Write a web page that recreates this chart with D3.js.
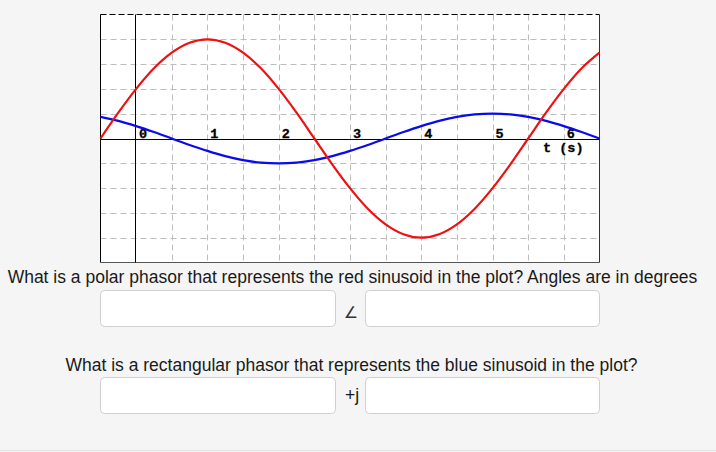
<!DOCTYPE html>
<html>
<head>
<meta charset="utf-8">
<script src="https://cdn.jsdelivr.net/npm/d3@7"></script>
<style>
  html, body { margin: 0; padding: 0; background: #f5f5f5; }
  svg { display: block; }
</style>
</head>
<body>
<svg id="chart" width="716" height="452"></svg>
<script>
// ---- data ----
const times = [-0.5,-0.25,0,0.25,0.5,0.75,1,1.25,1.5,1.75,2,2.25,2.5,2.75,3,3.25,3.5,3.75,4,4.25,4.5,4.75,5,5.25,5.5,5.75,6,6.25,6.5];
const redValues = [0,1.04,2,2.83,3.46,3.86,4,3.86,3.46,2.83,2,1.04,0,-1.04,-2,-2.83,-3.46,-3.86,-4,-3.86,-3.46,-2.83,-2,-1.04,0,1.04,2,2.83,3.46];
const blueValues = [0.87,0.71,0.5,0.26,0,-0.26,-0.5,-0.71,-0.87,-0.97,-1,-0.97,-0.87,-0.71,-0.5,-0.26,0,0.26,0.5,0.71,0.87,0.97,1,0.97,0.87,0.71,0.5,0.26,0];
const xTickLabels = [0,1,2,3,4,5,6];
const xGridValues = [0.5,1,1.5,2,2.5,3,3.5,4,4.5,5,5.5,6];
const yGridValues = [-4,-3,-2,-1,1,2,3,4];
const xAxisTitle = "t (s)";
const question1 = "What is a polar phasor that represents the red sinusoid in the plot? Angles are in degrees";
const question2 = "What is a rectangular phasor that represents the blue sinusoid in the plot?";
const joiner1 = "\u2220";
const joiner2 = "+j";

const svg = d3.select("#chart");
const x = d3.scaleLinear().domain([-0.5, 6.5]).range([100.5, 599.5]);
const y = d3.scaleLinear().domain([-5, 5]).range([262.5, 14.5]);

// plot background
svg.append("rect").attr("x", x(-0.5)).attr("y", y(5))
  .attr("width", x(6.5) - x(-0.5)).attr("height", y(-5) - y(5))
  .attr("fill", "#fff");

// grid
const grid = svg.append("g").attr("stroke", "#bdbdbd").attr("stroke-width", 1).attr("stroke-dasharray", "6,4");
grid.selectAll("line.v").data(xGridValues).join("line").attr("class", "v")
  .attr("x1", d => Math.round(x(d)) + 0.5).attr("x2", d => Math.round(x(d)) + 0.5)
  .attr("y1", y(5)).attr("y2", y(-5));
grid.selectAll("line.h").data(yGridValues).join("line").attr("class", "h")
  .attr("y1", d => Math.round(y(d)) + 0.5).attr("y2", d => Math.round(y(d)) + 0.5)
  .attr("x1", x(-0.5)).attr("x2", x(6.5));

// frame
svg.append("line").attr("x1", x(-0.5)).attr("x2", x(6.5)).attr("y1", y(5)).attr("y2", y(5))
  .attr("stroke", "#000").attr("stroke-dasharray", "6,3");
svg.append("line").attr("x1", x(-0.5)).attr("x2", x(-0.5)).attr("y1", y(5)).attr("y2", y(-5)).attr("stroke", "#000");
svg.append("line").attr("x1", x(6.5)).attr("x2", x(6.5)).attr("y1", y(5)).attr("y2", y(-5)).attr("stroke", "#333");
svg.append("line").attr("x1", x(-0.5)).attr("x2", x(6.5)).attr("y1", y(-5)).attr("y2", y(-5)).attr("stroke", "#555");

// axes lines
svg.append("line").attr("x1", x(-0.5)).attr("x2", x(6.5)).attr("y1", Math.round(y(0)) + 0.5).attr("y2", Math.round(y(0)) + 0.5).attr("stroke", "#000");
svg.append("line").attr("x1", Math.round(x(0)) - 0.5).attr("x2", Math.round(x(0)) - 0.5).attr("y1", y(5)).attr("y2", y(-5)).attr("stroke", "#000");

// tick labels via d3 axis
const monoFont = "'Liberation Mono', 'DejaVu Sans Mono', monospace";
const axis = d3.axisTop(x).tickValues(xTickLabels).tickSize(0).tickPadding(1).tickFormat(d3.format("d"));
const axG = svg.append("g").attr("transform", `translate(0,${Math.round(y(0))})`).call(axis);
axG.select(".domain").remove();
axG.selectAll("text")
  .attr("dx", 6.5)
  .attr("font-family", monoFont)
  .attr("font-weight", "bold").attr("font-size", 13.5).attr("fill", "#000")
  .attr("stroke", "#000").attr("stroke-width", 0.3);

svg.append("text").attr("x", 543).attr("y", y(0) + 13)
  .attr("font-family", monoFont)
  .attr("font-weight", "bold").attr("font-size", 13.5).attr("fill", "#000")
  .attr("stroke", "#000").attr("stroke-width", 0.3)
  .text(xAxisTitle);

// curves
const line = d3.line().x((d, i) => x(times[i])).y(d => y(d)).curve(d3.curveMonotoneX);
svg.append("path").attr("d", line(blueValues)).attr("fill", "none").attr("stroke", "#0a0aee").attr("stroke-width", 2.2);
svg.append("path").attr("d", line(redValues)).attr("fill", "none").attr("stroke", "#ee1111").attr("stroke-width", 2.2);

// questions
const font = "'Liberation Sans', Arial, sans-serif";
svg.append("text").attr("x", 352.5).attr("y", 283).attr("text-anchor", "middle").attr("font-family", font).attr("font-size", 17.5).attr("fill", "#1a1a1a").text(question1);
svg.append("text").attr("x", 351.5).attr("y", 371).attr("text-anchor", "middle").attr("font-family", font).attr("font-size", 17.5).attr("fill", "#1a1a1a").text(question2);

const boxes = [
  {x: 100, y: 290, w: 235, h: 36},
  {x: 365, y: 290, w: 234, h: 36},
  {x: 100, y: 377, w: 235, h: 36},
  {x: 365, y: 377, w: 234, h: 36}
];
svg.selectAll("rect.box").data(boxes).join("rect").attr("class", "box")
  .attr("x", d => d.x + 0.5).attr("y", d => d.y + 0.5).attr("width", d => d.w).attr("height", d => d.h)
  .attr("rx", 4).attr("fill", "#fff").attr("stroke", "#d0d0d0");

svg.append("text").attr("x", 351).attr("y", 318).attr("text-anchor", "middle").attr("font-family", "'DejaVu Sans', sans-serif").attr("font-size", 16).attr("fill", "#333").text(joiner1);
svg.append("text").attr("x", 352).attr("y", 401).attr("text-anchor", "middle").attr("font-family", font).attr("font-size", 17.5).attr("fill", "#1a1a1a").text(joiner2);

svg.append("line").attr("x1", 0).attr("x2", 716).attr("y1", 450.5).attr("y2", 450.5).attr("stroke", "#e2e2e2");
</script>
</body>
</html>
